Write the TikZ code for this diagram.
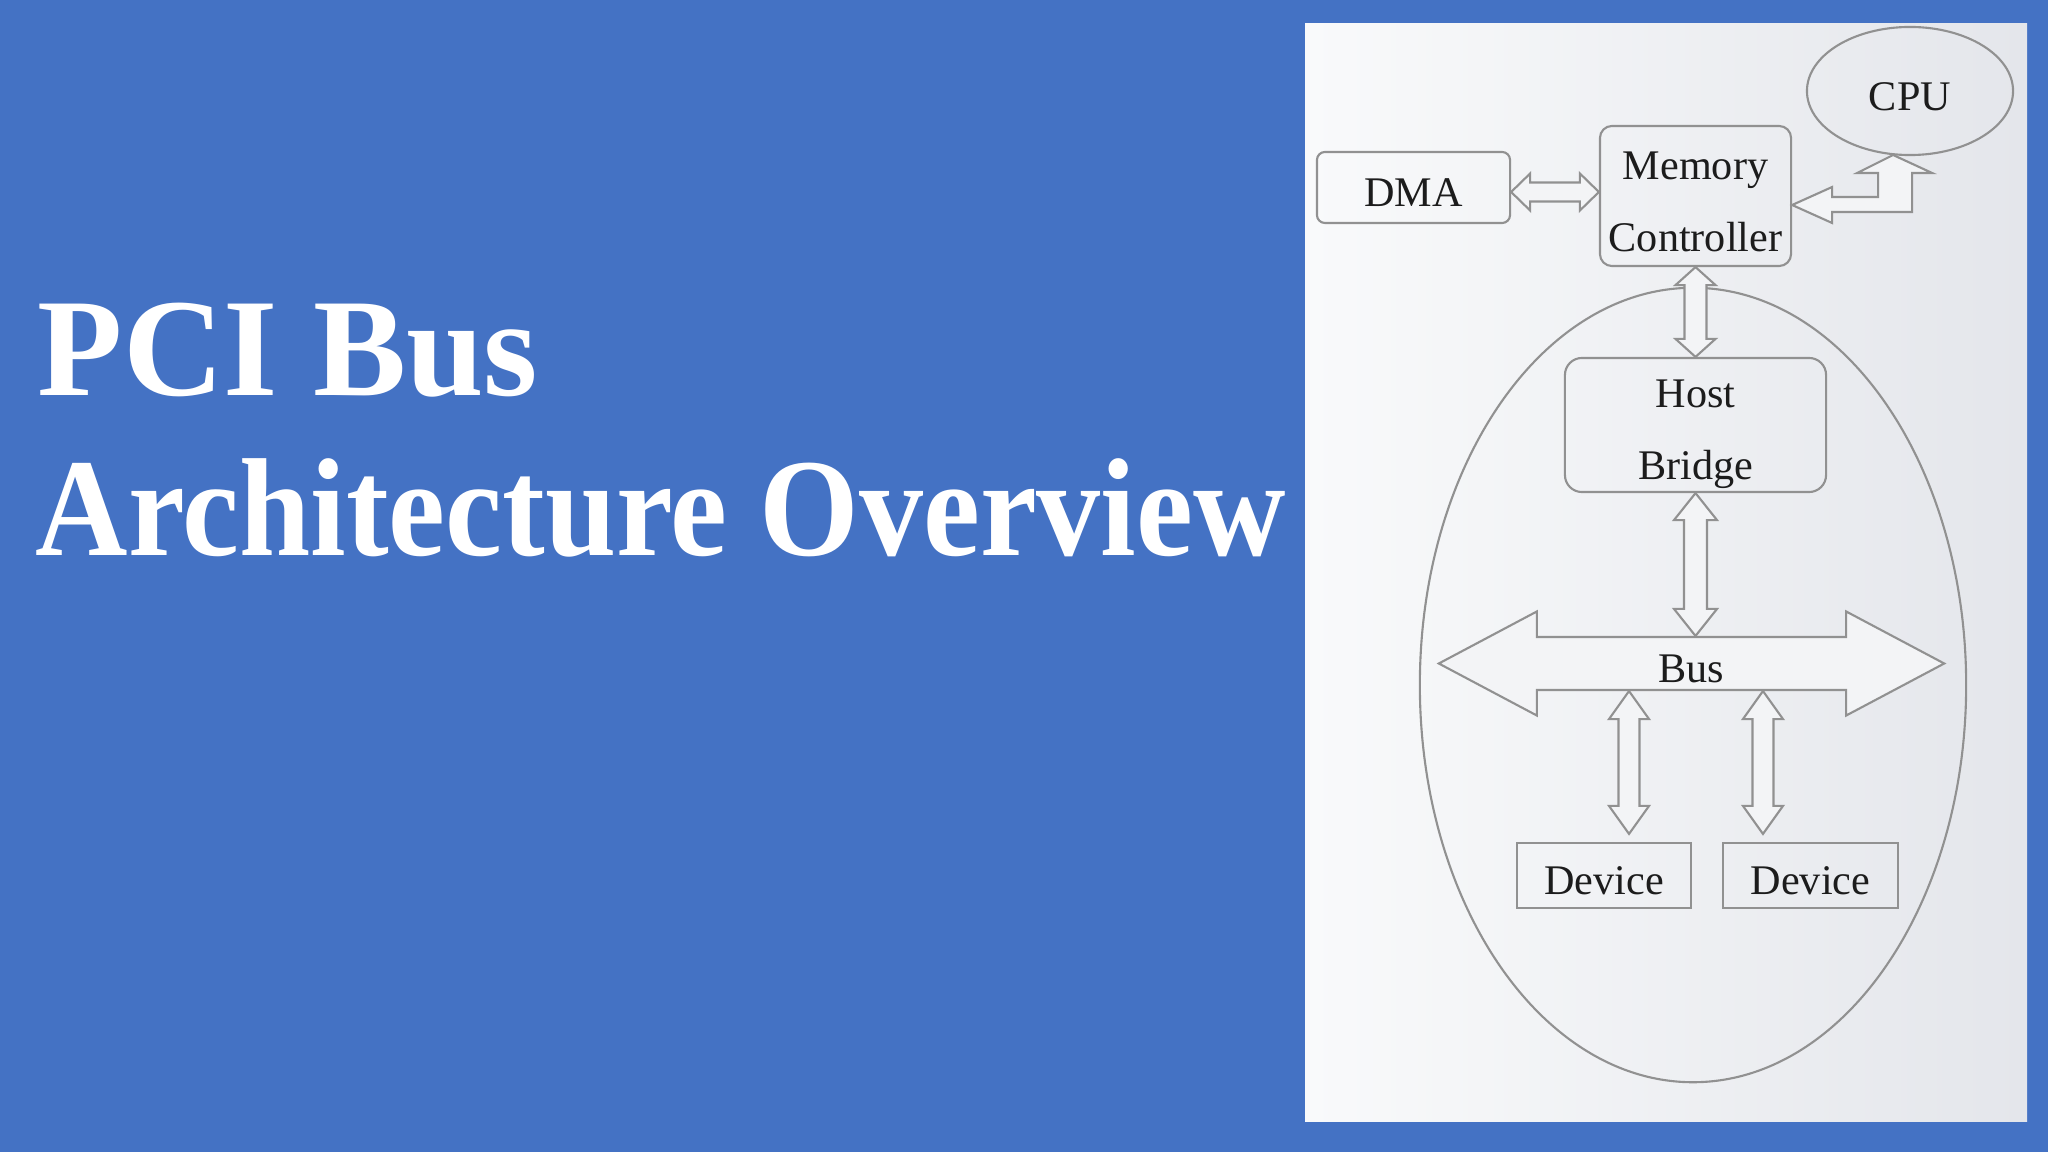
\documentclass[tikz,border=0pt]{standalone}
\usepackage{fontspec}
\setmainfont{Liberation Serif}
\usetikzlibrary{calc,shapes.geometric,positioning}
\definecolor{slideblue}{RGB}{68,114,196}
\definecolor{edgegray}{RGB}{145,145,145}
\definecolor{panelleft}{RGB}{249,250,251}
\definecolor{panelmid}{RGB}{243,244,246}
\definecolor{panelgray}{RGB}{228,230,235}
\definecolor{inkgray}{RGB}{28,28,28}

\tikzset{
    box/.style={draw=edgegray, line width=0.6pt, text=inkgray,
        font=\fontsize{12}{20.5}\selectfont, align=center, inner sep=0pt,
        execute at begin node={\rule{0pt}{11pt}}},
    rbox/.style={box, rounded corners=0.12cm},
    hollow/.style={draw=edgegray, line width=0.6pt, fill=panelmid, line join=miter},
    title/.style={text=white, font=\bfseries\fontsize{39.7}{39.7}\selectfont,
        anchor=base west, inner sep=0pt}
}

% double headed hollow arrow: from, to, half shaft, half head, head length
\newcommand{\fatarrow}[5]{%
    \path #1 coordinate (fa-p) #2 coordinate (fa-q)
        ($(fa-p)!#5!(fa-q)$) coordinate (fa-ph)
        ($(fa-q)!#5!(fa-p)$) coordinate (fa-qh);
    \draw[hollow] (fa-p) -- ($(fa-ph)!#4!90:(fa-q)$) -- ($(fa-ph)!#3!90:(fa-q)$)
        -- ($(fa-qh)!#3!-90:(fa-p)$) -- ($(fa-qh)!#4!-90:(fa-p)$) -- (fa-q)
        -- ($(fa-qh)!#4!90:(fa-p)$) -- ($(fa-qh)!#3!90:(fa-p)$)
        -- ($(fa-ph)!#3!-90:(fa-q)$) -- ($(fa-ph)!#4!-90:(fa-q)$) -- cycle;}

\begin{document}
\begin{tikzpicture}[x=0.01cm, y=-0.01cm]
    \fill[slideblue] (0,0) rectangle (2048,1152);
    \useasboundingbox (0,0) rectangle (2048,1152);
    \shade[left color=panelleft, middle color=panelmid, right color=panelgray]
        (1305,24) rectangle (2027,1121);

    % title
    \node[title] (t1) at (37,396) {PCI Bus};
    \node[title] (t2) at (35,555) {\scalebox{0.917}[1]{Architecture Overview}};

    % diagram
    \node[ellipse, draw=edgegray, line width=0.6pt, minimum width=5.46cm,
        minimum height=7.94cm] (pci) at (1693,685) {};
    \node[box, ellipse, minimum width=2.06cm, minimum height=1.28cm] (cpu) at (1910,91) {CPU};
    \node[rbox, minimum width=1.91cm, minimum height=1.40cm] (mc) at (1695.5,196)
        {\rule{0pt}{11pt}Memory\\Controller};
    \node[rbox, rounded corners=0.08cm, minimum width=1.93cm, minimum height=0.71cm] (dma) at (1413.5,187.5) {DMA};
    \node[rbox, rounded corners=0.17cm, minimum width=2.61cm, minimum height=1.34cm] (hb) at (1695.5,425)
        {\rule{0pt}{13pt}Host\\Bridge};
    \node[box, draw=none, minimum width=3.07cm, minimum height=0.53cm] (bus) at (1691.5,663.5) {};
    \node[box, minimum width=1.74cm, minimum height=0.65cm] (dev1) at (1604,875.5) {Device};
    \node[box, minimum width=1.75cm, minimum height=0.65cm] (dev2) at (1810.5,875.5) {Device};

    \coordinate (dmaR) at ([yshift=-0.045cm]dma.east);
    \coordinate (d1) at ([xshift=0.25cm, yshift=0.08cm]dev1.north);
    \coordinate (d2) at ([xshift=-0.475cm, yshift=0.08cm]dev2.north);
    \coordinate (cm) at ([yshift=-0.09cm]mc.east);

    \fatarrow{(dmaR)}{(dmaR -| mc.west)}{0.095cm}{0.185cm}{0.19cm}
    \fatarrow{(mc.south)}{(hb.north)}{0.11cm}{0.2cm}{0.18cm}
    \fatarrow{(hb.south)}{(hb.south |- bus.north)}{0.115cm}{0.215cm}{0.27cm}
    \fatarrow{([xshift=-0.98cm]bus.west)}{([xshift=0.98cm]bus.east)}{0.265cm}{0.52cm}{0.98cm}
    \fatarrow{(d1 |- bus.south)}{(d1)}{0.105cm}{0.2cm}{0.28cm}
    \fatarrow{(d2 |- bus.south)}{(d2)}{0.105cm}{0.2cm}{0.28cm}
    \draw[hollow] (cm) -- ++(40,-18) -- ++(0,10) -- ++(46,0) -- ++(0,-24)
        -- ++(-21,0) -- ++(36,-18) -- ++(39,18) -- ++(-20,0) -- ++(0,39)
        -- ++(-80,0) -- ++(0,11) -- cycle;
    \node[box, draw=none] (buslabel) at (bus) {Bus};
\end{tikzpicture}
\end{document}
